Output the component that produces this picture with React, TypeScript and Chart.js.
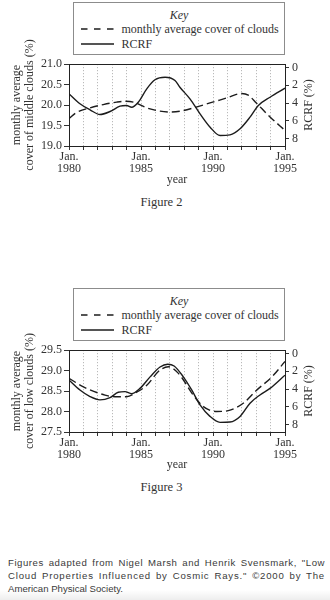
import React, { useEffect, useRef } from "react";
import { Chart, registerables } from "chart.js";

Chart.register(...registerables);

// ---------- Figure 2 data ----------
const fig2CloudYears = [1980, 1980.5, 1981.46, 1982.38, 1983.31, 1983.89, 1984.47, 1985.4, 1986.32, 1987.01, 1987.71, 1988.75, 1989.79, 1990.94, 1991.99, 1992.45, 1993.03, 1993.96, 1995];
const fig2Cloud = [19.67, 19.81, 19.93, 20.01, 20.07, 20.09, 20.07, 19.93, 19.85, 19.83, 19.85, 19.94, 20.05, 20.17, 20.28, 20.24, 20.04, 19.71, 19.38];
const fig2RcrfYears = [1980, 1980.76, 1981.46, 1982.15, 1982.85, 1983.54, 1984.0, 1984.35, 1984.81, 1985.4, 1985.97, 1986.67, 1987.36, 1987.7, 1988.4, 1989.1, 1989.8, 1990.49, 1991.18, 1991.88, 1992.57, 1993.15, 1993.96, 1995];
const fig2Rcrf = [2.96, 4.09, 4.77, 5.3, 4.96, 4.36, 4.28, 4.48, 3.91, 2.4, 1.38, 1.09, 1.46, 2.22, 3.53, 5.22, 6.73, 7.67, 7.59, 6.91, 5.6, 4.28, 3.35, 2.33];

// ---------- Figure 3 data ----------
const fig3CloudYears = [1980, 1981.0, 1982.5, 1983.19, 1984.0, 1984.7, 1985.4, 1986.32, 1986.9, 1987.6, 1988.63, 1989.33, 1990.26, 1991.06, 1992.1, 1993.03, 1994.08, 1995];
const fig3Cloud = [28.81, 28.6, 28.4, 28.36, 28.36, 28.47, 28.64, 29.01, 29.09, 28.93, 28.4, 28.12, 28.0, 28.02, 28.2, 28.52, 28.84, 29.22];
const fig3RcrfYears = [1980, 1980.76, 1981.46, 1982.15, 1982.85, 1983.42, 1983.89, 1984.35, 1984.93, 1985.63, 1986.32, 1986.85, 1987.3, 1987.94, 1988.52, 1989.1, 1989.79, 1990.49, 1991.18, 1991.88, 1992.57, 1993.26, 1993.96, 1995];
const fig3Rcrf = [3.0, 4.12, 4.86, 5.23, 4.97, 4.37, 4.3, 4.53, 3.93, 2.63, 1.52, 1.2, 1.4, 2.63, 4.11, 5.79, 7.09, 7.76, 7.72, 7.09, 5.6, 4.67, 3.93, 2.44];

// ---------- axes / labels ----------
const yearMin = 1980;
const yearMax = 1995;
const yearLabelEvery = 5;
const rcrfTicks = [0, 1, 2, 3, 4, 5, 6, 7, 8];
const rcrfMin = -0.4;
const rcrfMax = 8.85;
const fig2CloudRange = [19.0, 21.0];
const fig3CloudRange = [27.5, 29.5];
const fig2LeftTitle = ["monthly average", "cover of middle clouds (%)"];
const fig3LeftTitle = ["monthly average", "cover of low clouds (%)"];
const rightTitle = "RCRF (%)";
const xTitle = "year";
const keyTitle = "Key";
const keyCloudLabel = "monthly average cover of clouds";
const keyRcrfLabel = "RCRF";

const SERIF = "'Liberation Serif', 'DejaVu Serif', 'Times New Roman', serif";
const SANS = "'Liberation Sans', Arial, Helvetica, sans-serif";
const TXT = "#333";
const LINE = "#1c1c1c";

const CW = 330;
const PAD_TOP = 34;
const PLOT_H = 82;
const X_AXIS_H = 44;
const CH = PAD_TOP + PLOT_H + X_AXIS_H;

const rightTitlePlugin = {
  id: "rightTitle",
  afterDraw(chart: any) {
    const s = chart.scales.yR;
    const ca = chart.chartArea;
    const ctx = chart.ctx;
    ctx.save();
    ctx.translate(s.right - 21, (ca.top + ca.bottom) / 2);
    ctx.rotate(-Math.PI / 2);
    ctx.font = `12px ${SERIF}`;
    ctx.fillStyle = TXT;
    ctx.textAlign = "center";
    ctx.textBaseline = "middle";
    ctx.fillText(rightTitle, 0, 0);
    ctx.restore();
  },
};

function CloudChart(props: {
  top: number;
  cloudYears: number[];
  cloud: number[];
  rcrfYears: number[];
  rcrf: number[];
  range: number[];
  leftTitle: string[];
  xTitlePad: number;
}) {
  const ref = useRef<HTMLCanvasElement | null>(null);
  useEffect(() => {
    const cloudPts = props.cloudYears.map((x, i) => ({ x, y: props.cloud[i] }));
    const rcrfPts = props.rcrfYears.map((x, i) => ({ x, y: props.rcrf[i] }));
    const tickFont = { family: SERIF, size: 12, lineHeight: 0.97 };
    const chart = new Chart(ref.current as HTMLCanvasElement, {
      type: "line",
      data: {
        datasets: [
          {
            label: keyCloudLabel,
            data: cloudPts,
            xAxisID: "x",
            yAxisID: "yL",
            borderColor: LINE,
            borderWidth: 1.4,
            borderDash: [8, 4],
            pointRadius: 0,
            cubicInterpolationMode: "monotone",
            fill: false,
          },
          {
            label: keyRcrfLabel,
            data: rcrfPts,
            xAxisID: "x",
            yAxisID: "yR",
            borderColor: LINE,
            borderWidth: 1.4,
            pointRadius: 0,
            cubicInterpolationMode: "monotone",
            fill: false,
          },
        ],
      },
      options: {
        animation: false,
        responsive: false,
        maintainAspectRatio: false,
        events: [],
        layout: { padding: { top: PAD_TOP, left: 0, right: 0, bottom: 0 } },
        plugins: { legend: { display: false }, tooltip: { enabled: false }, title: { display: false } },
        scales: {
          x: {
            type: "linear",
            position: "bottom",
            min: yearMin,
            max: yearMax,
            afterFit: (s: any) => {
              s.height = X_AXIS_H;
            },
            ticks: {
              stepSize: 1,
              autoSkip: false,
              maxRotation: 0,
              minRotation: 0,
              padding: 1.4,
              color: TXT,
              font: tickFont,
              callback: (v: any) => (Number(v) % yearLabelEvery === 0 ? ["Jan.", String(v)] : ""),
            },
            grid: {
              color: "#a8a8a8",
              lineWidth: 0.8,
              tickLength: 4,
              tickColor: "#333",
              tickWidth: 1,
              tickBorderDash: [],
            },
            border: { display: true, color: "#222", width: 1, dash: [1.2, 1.8] },
            title: {
              display: true,
              text: xTitle,
              color: TXT,
              font: { family: SERIF, size: 12, lineHeight: 1 },
              padding: { top: 0, bottom: props.xTitlePad },
            },
          },
          xTop: {
            type: "linear",
            position: "top",
            min: yearMin,
            max: yearMax,
            display: true,
            afterFit: (s: any) => {
              s.height = 0;
            },
            ticks: { display: false },
            grid: { display: false, drawTicks: false },
            border: { display: true, color: "#222", width: 1 },
          },
          yL: {
            type: "linear",
            position: "left",
            min: props.range[0],
            max: props.range[1],
            afterFit: (s: any) => {
              s.width = 69;
            },
            ticks: {
              stepSize: 0.5,
              padding: 2,
              color: TXT,
              font: { family: SERIF, size: 12 },
              callback: (v: any) => Number(v).toFixed(1),
            },
            grid: { drawOnChartArea: false, tickLength: 5, tickColor: "#333", tickWidth: 1 },
            border: { display: true, color: "#222", width: 1 },
            title: {
              display: true,
              text: props.leftTitle,
              color: TXT,
              font: { family: SERIF, size: 12, lineHeight: 1.1 },
              padding: { top: 10.4, bottom: 0 },
            },
          },
          yR: {
            type: "linear",
            position: "right",
            min: rcrfMin,
            max: rcrfMax,
            reverse: true,
            afterFit: (s: any) => {
              s.width = CW - 285;
            },
            afterBuildTicks: (s: any) => {
              s.ticks = rcrfTicks.map((v) => ({ value: v }));
            },
            ticks: {
              padding: 3,
              color: TXT,
              font: { family: SERIF, size: 12 },
              callback: (v: any) => (Number(v) % 2 === 0 ? String(v) : ""),
            },
            grid: {
              drawOnChartArea: false,
              tickLength: 4,
              tickColor: (c: any) => (c.tick && c.tick.value % 2 === 0 ? "#333" : "#777"),
              tickWidth: 1,
            },
            border: { display: true, color: "#222", width: 1 },
          },
        },
      },
      plugins: [rightTitlePlugin],
    } as any);
    return () => chart.destroy();
  }, []);
  return (
    <canvas
      ref={ref}
      width={CW}
      height={CH}
      style={{ position: "absolute", left: 0, top: props.top, width: CW, height: CH }}
    />
  );
}

function Key(props: { top: number }) {
  const lineStyle: React.CSSProperties = { position: "absolute", left: 7 };
  return (
    <div
      style={{
        position: "absolute",
        left: 73,
        top: props.top,
        width: 212,
        height: 53,
        border: "1px solid #8c8c8c",
        boxSizing: "border-box",
        fontFamily: SERIF,
        fontSize: 12,
        color: TXT,
      }}
    >
      <div style={{ position: "absolute", left: 0, right: 0, top: 5, lineHeight: "14px", textAlign: "center", fontStyle: "italic" }}>
        {keyTitle}
      </div>
      <svg style={{ ...lineStyle, top: 19 }} width={34} height={14}>
        <line x1={0} y1={7} x2={33} y2={7} stroke={LINE} strokeWidth={1.3} strokeDasharray="6.5 6.5" />
      </svg>
      <div style={{ position: "absolute", left: 47.5, top: 19, lineHeight: "14px", whiteSpace: "nowrap" }}>{keyCloudLabel}</div>
      <svg style={{ ...lineStyle, top: 34 }} width={34} height={14}>
        <line x1={0} y1={7} x2={33} y2={7} stroke={LINE} strokeWidth={1.3} />
      </svg>
      <div style={{ position: "absolute", left: 47.5, top: 34, lineHeight: "14px", whiteSpace: "nowrap" }}>{keyRcrfLabel}</div>
    </div>
  );
}

function Caption(props: { top: number; text: string }) {
  return (
    <div
      style={{
        position: "absolute",
        left: 0,
        width: 323,
        top: props.top,
        lineHeight: "14px",
        textAlign: "center",
        fontFamily: SERIF,
        fontSize: 12.5,
        color: TXT,
      }}
    >
      {props.text}
    </div>
  );
}

const footLines = [
  'Figures adapted from Nigel Marsh and Henrik Svensmark, "Low',
  'Cloud Properties Influenced by Cosmic Rays." \u00A92000 by The',
  "American Physical Society.",
];
const footSpacing = [0.55, 0.8, 0];

export default function App() {
  return (
    <div style={{ position: "absolute", left: 0, top: 0, width: 330, height: 600, background: "#fff", overflow: "hidden" }}>
      <Key top={2} />
      <CloudChart
        top={64 - PAD_TOP}
        cloudYears={fig2CloudYears}
        cloud={fig2Cloud}
        rcrfYears={fig2RcrfYears}
        rcrf={fig2Rcrf}
        range={fig2CloudRange}
        leftTitle={fig2LeftTitle}
        xTitlePad={4}
      />
      <Caption top={195} text="Figure 2" />

      <Key top={288} />
      <CloudChart
        top={350 - PAD_TOP}
        cloudYears={fig3CloudYears}
        cloud={fig3Cloud}
        rcrfYears={fig3RcrfYears}
        rcrf={fig3Rcrf}
        range={fig3CloudRange}
        leftTitle={fig3LeftTitle}
        xTitlePad={5}
      />
      <Caption top={480} text="Figure 3" />

      <div style={{ position: "absolute", left: 8, top: 555.5, width: 317, fontFamily: SANS, fontSize: 9.6, lineHeight: "13px", color: "#3a3a3a" }}>
        {footLines.map((t, i) => (
          <div
            key={i}
            style={{
              textAlign: i < 2 ? "justify" : "left",
              textAlignLast: i < 2 ? "justify" : "left",
              letterSpacing: footSpacing[i] + "px",
              whiteSpace: "nowrap",
            }}
          >
            {t}
          </div>
        ))}
      </div>
      <div style={{ position: "absolute", left: 0, top: 590, width: 330, height: 10, background: "linear-gradient(to bottom, rgba(0,0,0,0), rgba(0,0,0,0.07))" }} />
    </div>
  );
}
